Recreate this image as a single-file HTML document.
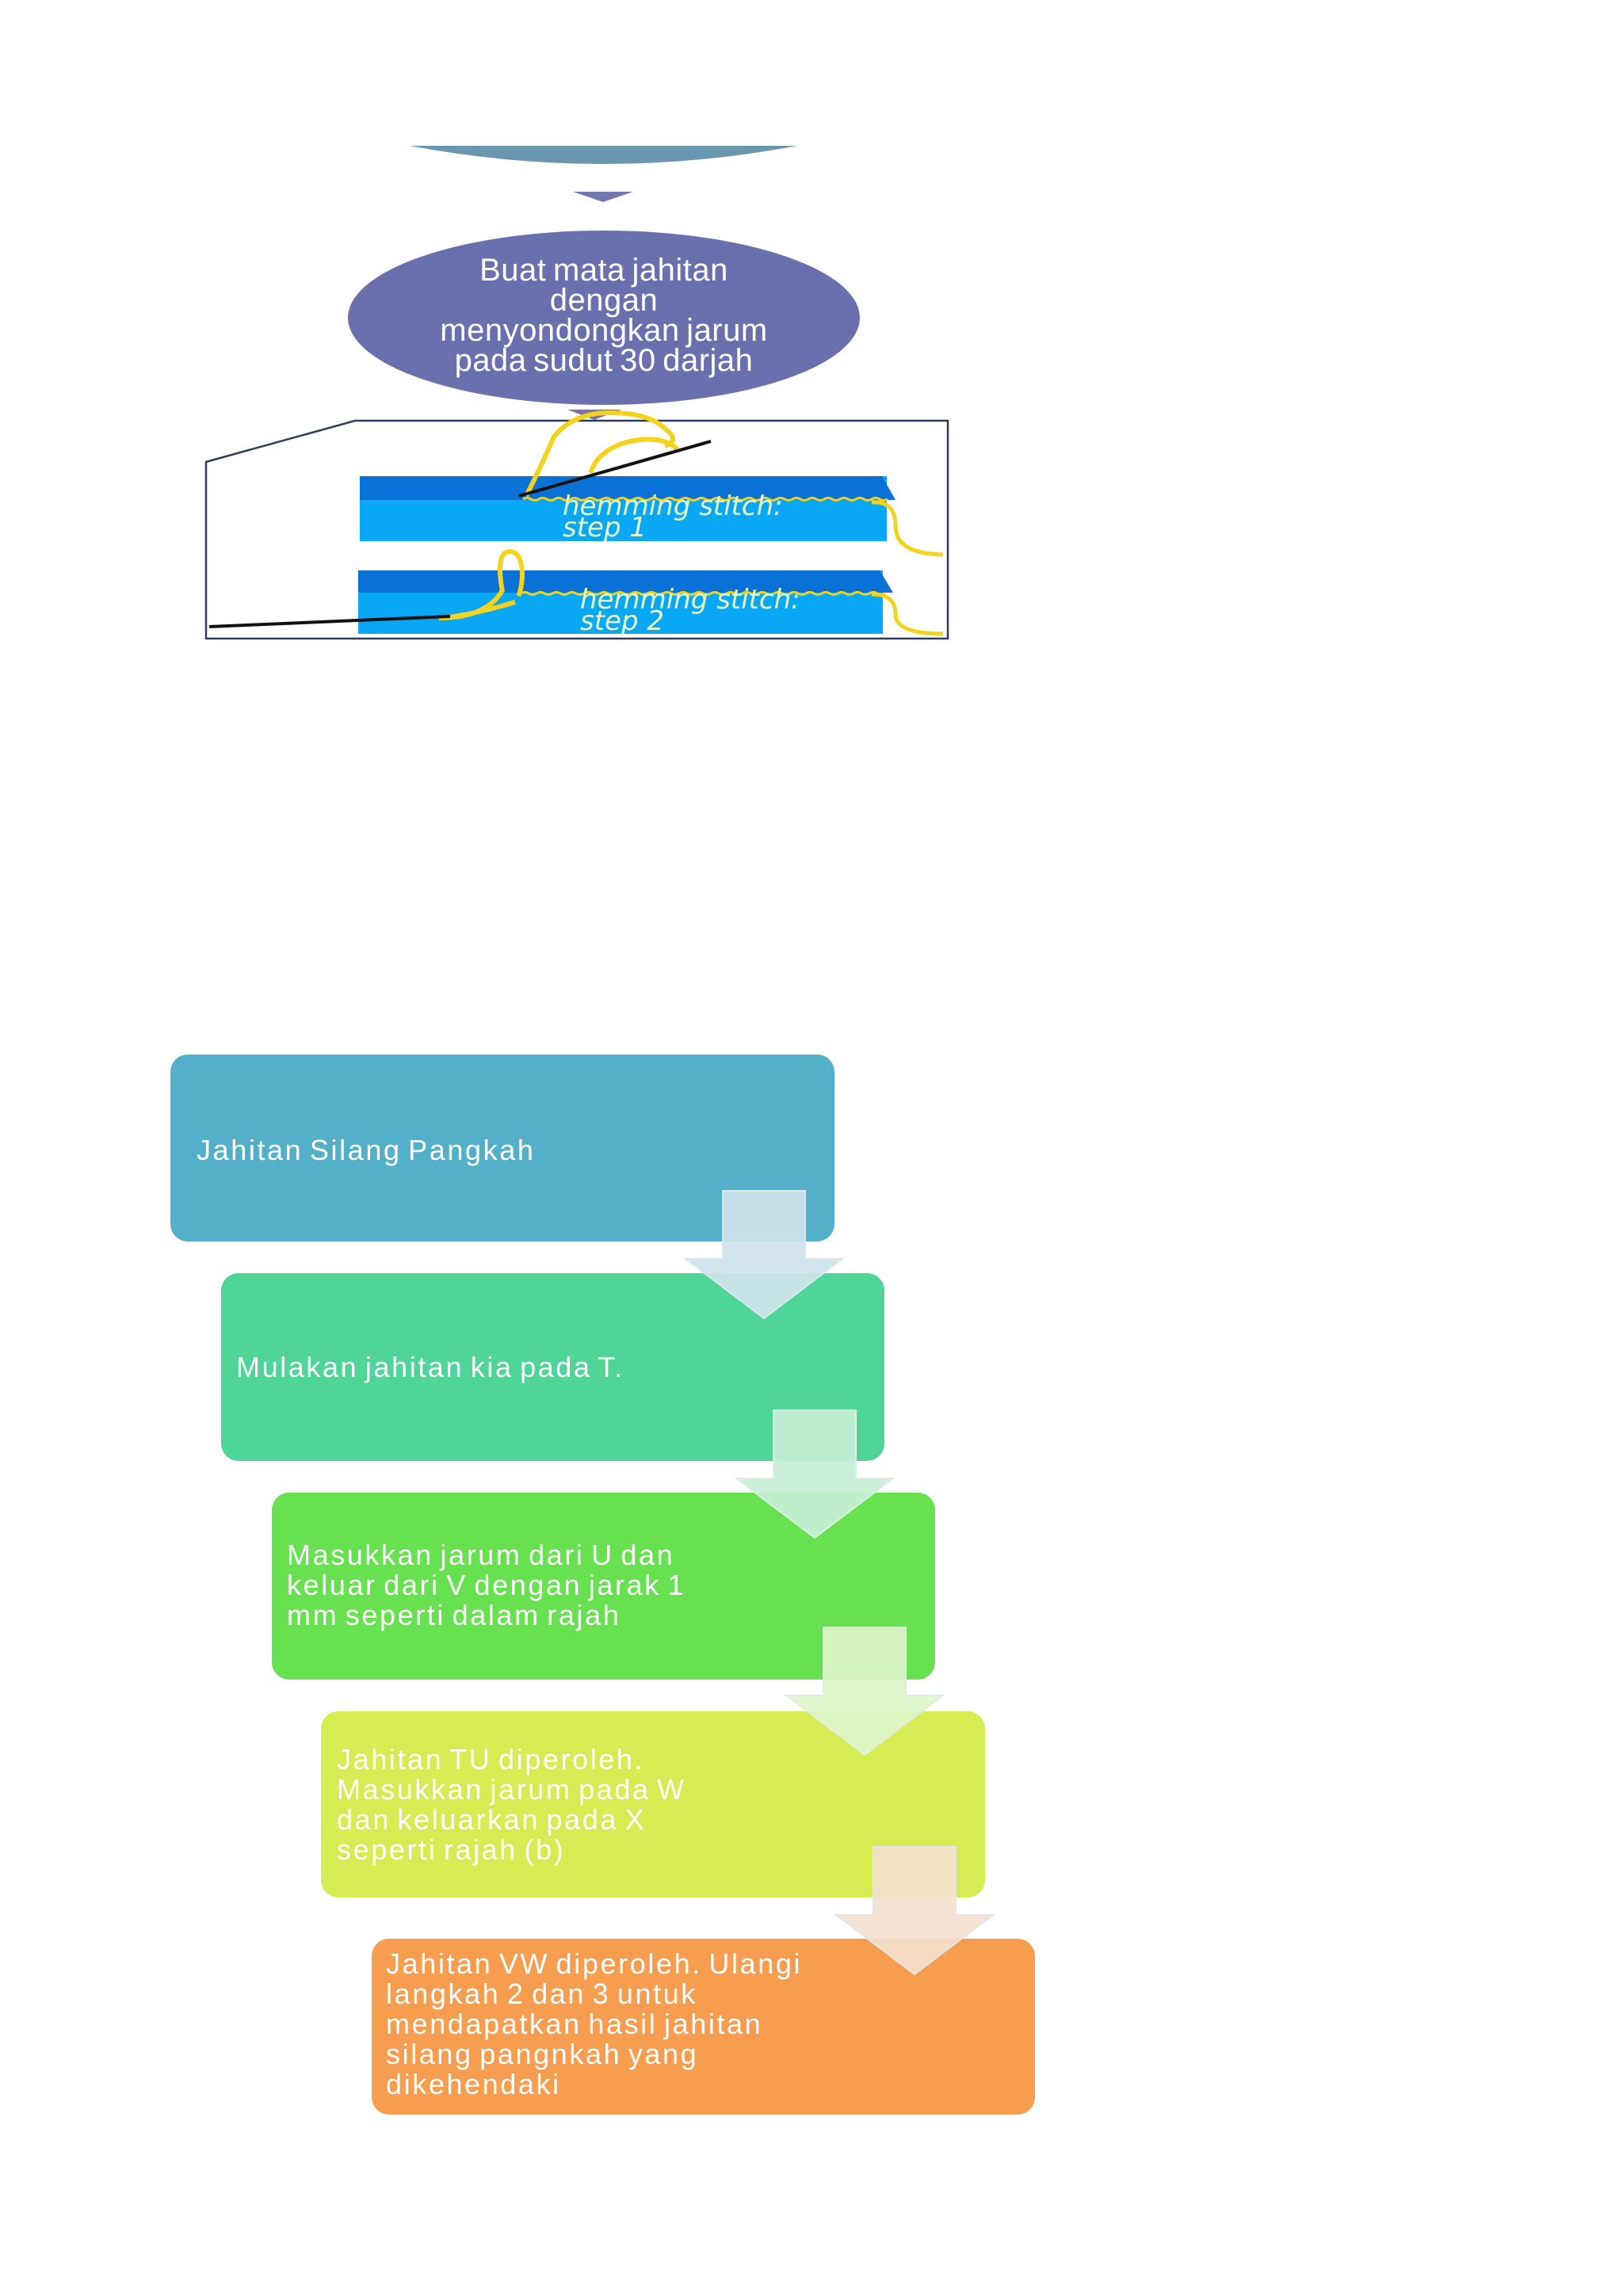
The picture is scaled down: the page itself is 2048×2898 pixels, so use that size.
<!DOCTYPE html>
<html><head><meta charset="utf-8">
<style>
html,body{margin:0;padding:0;background:#fff;}
body{width:2048px;height:2898px;position:relative;overflow:hidden;font-family:"Liberation Sans",sans-serif;}
.t{position:absolute;color:#fff;font-size:36px;line-height:38px;letter-spacing:2.6px;word-spacing:-4px;white-space:pre;}
</style></head>
<body>
<svg width="2048" height="2898" style="position:absolute;left:0;top:0">
  <path d="M517 184 Q762 230 1006 184 Z" fill="#6a97b0"/>
  <polygon points="723,242 799,242 761,255" fill="#7178b0"/>
  <ellipse cx="762" cy="401" rx="323" ry="110" fill="#6a6fad"/>
  <polygon points="716,517 784,517 750,530" fill="#7a70b0"/>
  <polygon points="448,531 1196,531 1196,806 260,806 260,583" fill="#fff" stroke="#2a3d5c" stroke-width="2.5"/>
  <rect x="454" y="601" width="665" height="82" fill="#0aa7f5"/>
  <polygon points="454,601 1113,601 1130,631 454,631" fill="#0a72d6"/>
  <rect x="452" y="720" width="662" height="80" fill="#0aa7f5"/>
  <polygon points="452,720 1110,720 1127,748 452,748" fill="#0a72d6"/>
  <path d="M660 630 q5 -3 10 0 t10 0 t10 0 t10 0 t10 0 t10 0 t10 0 t10 0 t10 0 t10 0 t10 0 t10 0 t10 0 t10 0 t10 0 t10 0 t10 0 t10 0 t10 0 t10 0 t10 0 t10 0 t10 0 t10 0 t10 0 t10 0 t10 0 t10 0 t10 0 t10 0 t10 0 t10 0 t10 0 t10 0 t10 0 t10 0 t10 0 t10 0 t10 0 t10 0 t10 0 t10 0 t10 0 t10 0 t10 0 t10 0" fill="none" stroke="#f5d21c" stroke-width="3"/>
  <path d="M1100 634 q30 -2 30 30 q0 35 60 36" fill="none" stroke="#f5d21c" stroke-width="5"/>
  <path d="M664 626 q20 -40 35 -75 q25 -30 70 -30 q50 0 70 20 q20 15 0 22 M745 597 q10 -30 50 -40 q40 -8 60 10" fill="none" stroke="#f5d21c" stroke-width="6"/>
  <line x1="655" y1="626" x2="897" y2="557" stroke="#111" stroke-width="4"/>
  <path d="M657 749 q5 -3 10 0 t10 0 t10 0 t10 0 t10 0 t10 0 t10 0 t10 0 t10 0 t10 0 t10 0 t10 0 t10 0 t10 0 t10 0 t10 0 t10 0 t10 0 t10 0 t10 0 t10 0 t10 0 t10 0 t10 0 t10 0 t10 0 t10 0 t10 0 t10 0 t10 0 t10 0 t10 0 t10 0 t10 0 t10 0 t10 0 t10 0 t10 0 t10 0 t10 0 t10 0 t10 0 t10 0 t10 0 t10 0 t10 0" fill="none" stroke="#f5d21c" stroke-width="3"/>
  <path d="M1100 750 q30 0 30 25 q0 25 60 25" fill="none" stroke="#f5d21c" stroke-width="5"/>
  <path d="M634 747 q-8 -45 5 -50 q18 -5 20 25 q0 20 -5 30 M634 745 q-20 35 -80 35 M560 780 q40 -5 90 -20" fill="none" stroke="#f5d21c" stroke-width="6"/>
  <line x1="264" y1="791" x2="568" y2="778" stroke="#111" stroke-width="4"/>
  <rect x="215" y="1331" width="838" height="236" rx="22" fill="#54afc9"/>
  <rect x="279" y="1607" width="837" height="237" rx="22" fill="#4fd597"/>
  <rect x="343" y="1884" width="837" height="236" rx="22" fill="#68e150"/>
  <rect x="405" y="2160" width="838" height="235" rx="22" fill="#d6ec52"/>
  <rect x="469" y="2447" width="837" height="222" rx="22" fill="#f79d4f"/>
  <polygon points="912,1503 1016,1503 1016,1589 1063,1589 964,1664 865,1589 912,1589" fill="#cfe3ea" fill-opacity="0.92" stroke="#dbe9ee" stroke-width="2"/>
  <polygon points="976,1780 1080,1780 1080,1866 1127,1866 1028,1941 929,1866 976,1866" fill="#c7efd6" fill-opacity="0.92" stroke="#dcefe2" stroke-width="2"/>
  <polygon points="1039,2054 1143,2054 1143,2140 1190,2140 1091,2215 992,2140 1039,2140" fill="#ddf5c8" fill-opacity="0.92" stroke="#e2ece2" stroke-width="2"/>
  <polygon points="1102,2331 1206,2331 1206,2417 1253,2417 1154,2492 1055,2417 1102,2417" fill="#f4e0cc" fill-opacity="0.92" stroke="#e2e6ea" stroke-width="2"/>
</svg>
<div class="t" style="left:0;width:1524px;top:322px;text-align:center;font-size:40px;letter-spacing:0.5px;word-spacing:-3px">Buat mata jahitan
dengan
menyondongkan jarum
pada sudut 30 darjah</div>
<div style="position:absolute;left:710px;top:626px;color:#e8f7c0;font:italic 34px 'DejaVu Sans',sans-serif;line-height:27px;white-space:pre">hemming stitch:
step 1</div>
<div style="position:absolute;left:732px;top:744px;color:#e8f7c0;font:italic 34px 'DejaVu Sans',sans-serif;line-height:27px;white-space:pre">hemming stitch:
step 2</div>
<div class="t" style="left:248px;top:1433px">Jahitan Silang Pangkah</div>
<div class="t" style="left:298px;top:1707px">Mulakan jahitan kia pada T.</div>
<div class="t" style="left:362px;top:1944px">Masukkan jarum dari U dan
keluar dari V dengan jarak 1
mm seperti dalam rajah</div>
<div class="t" style="left:425px;top:2202px">Jahitan TU diperoleh.
Masukkan jarum pada W
dan keluarkan pada X
seperti rajah (b)</div>
<div class="t" style="left:487px;top:2460px">Jahitan VW diperoleh. Ulangi
langkah 2 dan 3 untuk
mendapatkan hasil jahitan
silang pangnkah yang
dikehendaki</div>
</body></html>
